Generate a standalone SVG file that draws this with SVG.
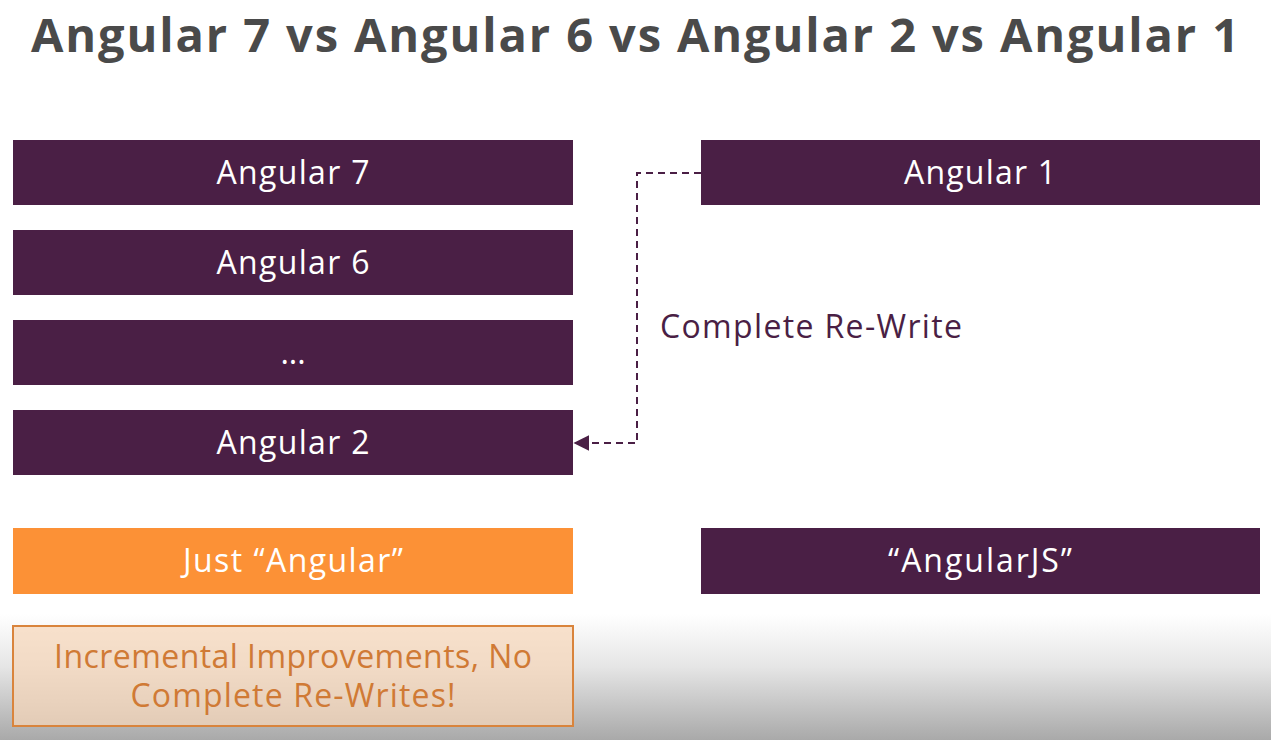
<svg xmlns="http://www.w3.org/2000/svg" width="1271" height="740" viewBox="0 0 1271 740">
<defs>
<linearGradient id="bg" x1="0" y1="0" x2="0" y2="1">
<stop offset="0" stop-color="#ffffff"/><stop offset="0.83" stop-color="#ffffff"/><stop offset="0.9" stop-color="#e6e6e6"/><stop offset="1" stop-color="#a9a9a9"/>
</linearGradient>
<marker id="arr" viewBox="0 0 10 10" refX="9" refY="5" markerWidth="8" markerHeight="8" orient="auto-start-reverse"><path d="M0,0L10,5L0,10z" fill="#4a1f45"/></marker>
<style>
.p{fill:#4a1f45}
.t{font-family:"Open Sans","Noto Sans",sans-serif;font-size:32px;fill:#fff;text-anchor:middle}
.o{font-family:"Open Sans","Noto Sans",sans-serif;font-size:32px;fill:#d07a35;text-anchor:middle}
</style>
</defs>
<rect width="1271" height="740" fill="url(#bg)"/>
<text x="635" y="52" text-anchor="middle" font-family="'Open Sans',Lato,sans-serif" font-weight="bold" font-size="47" fill="#4a4a4a" textLength="1208">Angular 7 vs Angular 6 vs Angular 2 vs Angular 1</text>
<g id="n7"><rect class="p" x="13" y="140" width="560" height="65"/><text class="t" x="293" y="184" textLength="153">Angular 7</text></g>
<g id="n6"><rect class="p" x="13" y="230" width="560" height="65"/><text class="t" x="293" y="274" textLength="153">Angular 6</text></g>
<g id="ndots"><rect class="p" x="13" y="320" width="560" height="65"/><text class="t" x="293" y="364">...</text></g>
<g id="n2"><rect class="p" x="13" y="410" width="560" height="65"/><text class="t" x="293" y="454" textLength="153">Angular 2</text></g>
<g id="n1"><rect class="p" x="701" y="140" width="559" height="65"/><text class="t" x="980" y="184" textLength="152">Angular 1</text></g>
<g id="just"><rect x="13" y="528" width="560" height="66" fill="#fc9136"/><text class="t" x="293" y="572" textLength="220">Just “Angular”</text></g>
<g id="ajs"><rect class="p" x="701" y="528" width="559" height="66"/><text class="t" x="980" y="572" textLength="184">“AngularJS”</text></g>
<g id="inc"><rect x="13" y="626" width="560" height="100" fill="#f6d5b8" fill-opacity="0.7" stroke="#d9843c" stroke-width="2"/>
<text class="o" x="293" y="668" textLength="478">Incremental Improvements, No</text>
<text class="o" x="293" y="707" textLength="325">Complete Re-Writes!</text></g>
<g id="connectors"><path d="M701,173H637V443H575" fill="none" stroke="#4a1f45" stroke-width="2" stroke-dasharray="7,5" marker-end="url(#arr)"/></g>
<text x="660" y="338" font-family="'Open Sans','Noto Sans',sans-serif" font-size="32" fill="#4a1f45" textLength="302">Complete Re-Write</text>
</svg>
